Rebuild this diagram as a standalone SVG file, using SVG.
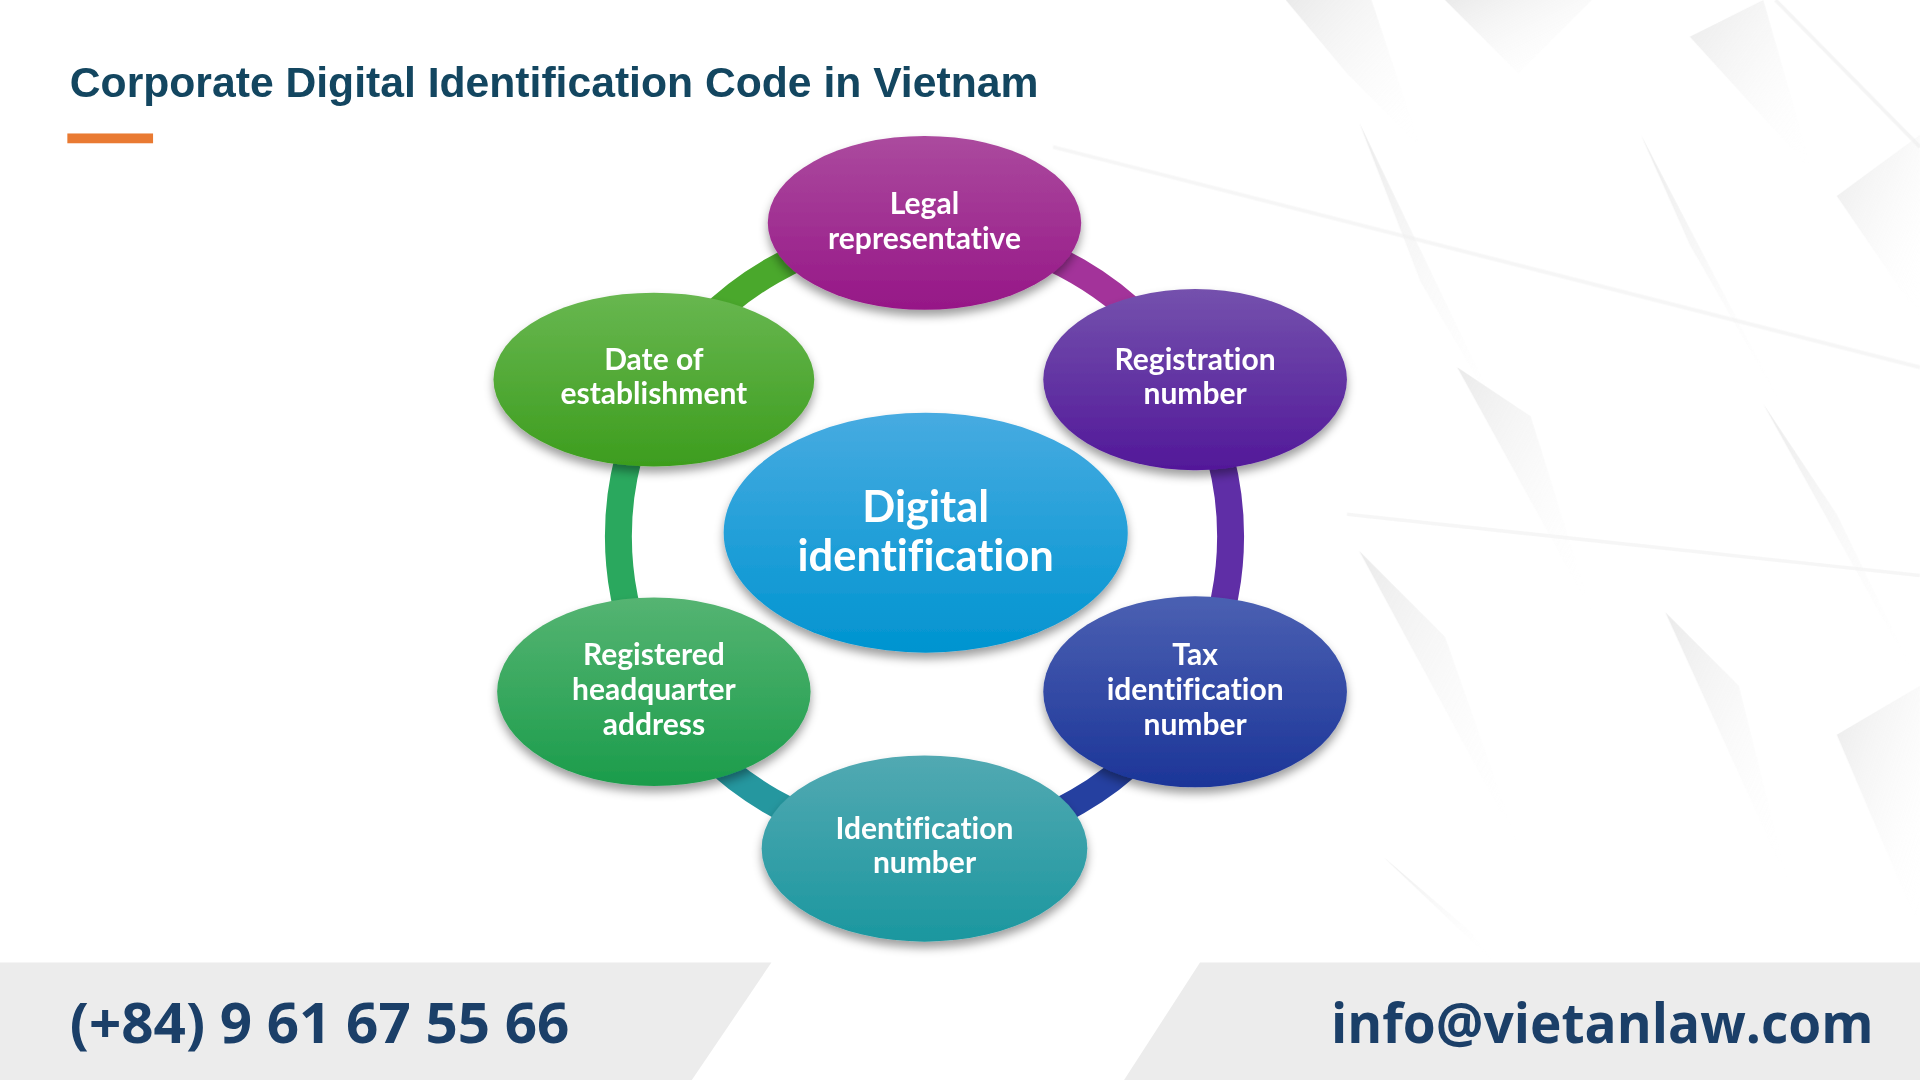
<svg xmlns="http://www.w3.org/2000/svg" width="1920" height="1080" viewBox="0 0 1920 1080">
<defs>
<style>
.lbl{font-family:Lato,"Open Sans","Liberation Sans",sans-serif;font-weight:700;font-size:24.5px;fill:#ffffff;text-anchor:middle;font-variant-ligatures:none}
.big{font-size:35.5px}
.arc{fill:none;stroke-width:22}
.foot{font-family:"Open Sans","Liberation Sans",sans-serif;font-weight:700;font-size:46px;fill:#1b3f68}
.tri{fill:url(#gTri)}
</style>
<filter id="sh" x="-20%" y="-20%" width="140%" height="150%">
<feDropShadow dx="0" dy="5" stdDeviation="4" flood-color="#000" flood-opacity="0.38"/>
</filter>
<linearGradient id="gTri" x1="0" y1="0" x2="1" y2="1">
<stop offset="0" stop-color="#d8d8d8" stop-opacity="0.9"/>
<stop offset="1" stop-color="#ffffff" stop-opacity="0"/>
</linearGradient>
<linearGradient id="gLegal" x1="0" y1="0" x2="0" y2="1"><stop offset="0" stop-color="#ab4a9e"/><stop offset="1" stop-color="#961787"/></linearGradient>
<linearGradient id="gReg" x1="0" y1="0" x2="0" y2="1"><stop offset="0" stop-color="#7451ad"/><stop offset="1" stop-color="#521899"/></linearGradient>
<linearGradient id="gTax" x1="0" y1="0" x2="0" y2="1"><stop offset="0" stop-color="#4b60b2"/><stop offset="1" stop-color="#1c3598"/></linearGradient>
<linearGradient id="gId" x1="0" y1="0" x2="0" y2="1"><stop offset="0" stop-color="#52a9b2"/><stop offset="1" stop-color="#1b979f"/></linearGradient>
<linearGradient id="gHq" x1="0" y1="0" x2="0" y2="1"><stop offset="0" stop-color="#55b472"/><stop offset="1" stop-color="#1b9c4b"/></linearGradient>
<linearGradient id="gDate" x1="0" y1="0" x2="0" y2="1"><stop offset="0" stop-color="#68b750"/><stop offset="1" stop-color="#3d9d1e"/></linearGradient>
<linearGradient id="gCen" x1="0" y1="0" x2="0" y2="1"><stop offset="0" stop-color="#47abe1"/><stop offset="1" stop-color="#0094d0"/></linearGradient>
</defs>
<rect width="1920" height="1080" fill="#ffffff"/>
<g transform="scale(1.2244898)">
<g id="background" opacity="0.6">
<polygon class="tri" points="1050,0 1120,0 1160,120 1100,60"/>
<polygon class="tri" points="1180,0 1300,0 1240,60"/>
<polygon class="tri" points="1380,30 1440,0 1480,140"/>
<polygon class="tri" points="1110,100 1160,230 1230,350"/>
<polygon class="tri" points="1340,110 1380,200 1460,340"/>
<polygon class="tri" points="1500,160 1568,110 1568,260"/>
<polygon class="tri" points="1190,300 1250,340 1300,500"/>
<polygon class="tri" points="1440,330 1500,420 1568,560"/>
<polygon class="tri" points="1110,450 1180,520 1240,690"/>
<polygon class="tri" points="1360,500 1420,560 1460,720"/>
<polygon class="tri" points="1500,600 1568,560 1568,760"/>
<polygon class="tri" points="1130,700 1200,760 1220,786"/>
<line x1="860" y1="120" x2="1568" y2="300" stroke="#e6e6e6" stroke-width="3" opacity="0.6"/>
<line x1="1100" y1="420" x2="1568" y2="470" stroke="#e8e8e8" stroke-width="3" opacity="0.6"/>
<line x1="1450" y1="0" x2="1568" y2="120" stroke="#e2e2e2" stroke-width="3" opacity="0.6"/>
</g>
<g id="title">
<text x="57" y="79" font-family="'Liberation Sans',Arial,sans-serif" font-weight="700" font-size="35" fill="#134660" textLength="791" lengthAdjust="spacingAndGlyphs">Corporate Digital Identification Code in Vietnam</text>
<rect x="55" y="109" width="70" height="8" fill="#e97a32"/>
</g>
<g id="connectors">
<path class="arc" stroke="#a3339a" d="M755 188 A250 250 0 0 1 971.5 313"/>
<path class="arc" stroke="#5f2ea6" d="M971.5 313 A250 250 0 0 1 971.5 563"/>
<path class="arc" stroke="#2540a0" d="M971.5 563 A250 250 0 0 1 755 688"/>
<path class="arc" stroke="#25979f" d="M755 688 A250 250 0 0 1 538.5 563"/>
<path class="arc" stroke="#2aa85e" d="M538.5 563 A250 250 0 0 1 538.5 313"/>
<path class="arc" stroke="#4aa82c" d="M538.5 313 A250 250 0 0 1 755 188"/>
</g>
<g id="node-center">
<ellipse cx="756" cy="435" rx="165" ry="98" fill="url(#gCen)" filter="url(#sh)"/>
<text class="lbl big" x="756" y="426">Digital</text>
<text class="lbl big" x="756" y="466">identification</text>
</g>
<g id="node-legal">
<ellipse cx="755" cy="182" rx="128" ry="71" fill="url(#gLegal)" filter="url(#sh)"/>
<text class="lbl" x="755" y="175">Legal</text>
<text class="lbl" x="755" y="203">representative</text>
</g>
<g id="node-registration">
<ellipse cx="976" cy="310" rx="124" ry="74" fill="url(#gReg)" filter="url(#sh)"/>
<text class="lbl" x="976" y="302">Registration</text>
<text class="lbl" x="976" y="330">number</text>
</g>
<g id="node-tax">
<ellipse cx="976" cy="565" rx="124" ry="78" fill="url(#gTax)" filter="url(#sh)"/>
<text class="lbl" x="976" y="543">Tax</text>
<text class="lbl" x="976" y="572">identification</text>
<text class="lbl" x="976" y="600">number</text>
</g>
<g id="node-identification">
<ellipse cx="755" cy="693" rx="133" ry="76" fill="url(#gId)" filter="url(#sh)"/>
<text class="lbl" x="755" y="685">Identification</text>
<text class="lbl" x="755" y="713">number</text>
</g>
<g id="node-headquarter">
<ellipse cx="534" cy="565" rx="128" ry="77" fill="url(#gHq)" filter="url(#sh)"/>
<text class="lbl" x="534" y="543">Registered</text>
<text class="lbl" x="534" y="572">headquarter</text>
<text class="lbl" x="534" y="600">address</text>
</g>
<g id="node-date">
<ellipse cx="534" cy="310" rx="131" ry="71" fill="url(#gDate)" filter="url(#sh)"/>
<text class="lbl" x="534" y="302">Date of</text>
<text class="lbl" x="534" y="330">establishment</text>
</g>
<g id="footer">
<polygon points="0,786 630,786 565,882 0,882" fill="#ececec"/>
<polygon points="980,786 1568,786 1568,882 918,882" fill="#ececec"/>
<text class="foot" x="57" y="852" textLength="408" lengthAdjust="spacingAndGlyphs">(+84) 9 61 67 55 66</text>
<text class="foot" x="1087" y="852" textLength="443" lengthAdjust="spacingAndGlyphs">info@vietanlaw.com</text>
</g>
</g>
</svg>
